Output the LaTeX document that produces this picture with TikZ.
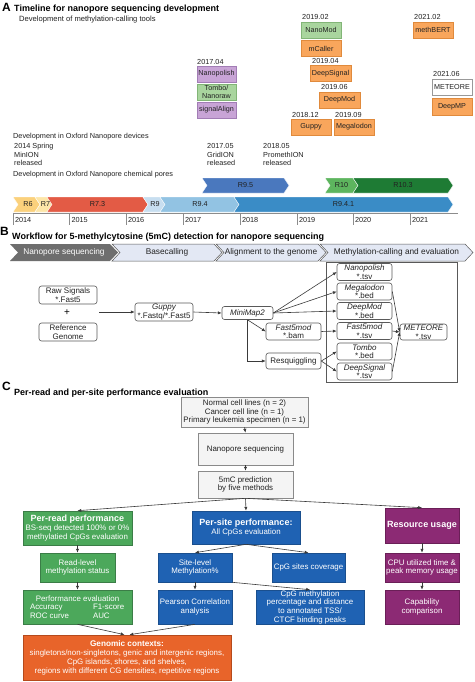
\documentclass[tikz,border=0pt]{standalone}
\usepackage{fontspec}
\setmainfont{Liberation Sans}
\usetikzlibrary{arrows.meta,calc}
\definecolor{txt}{HTML}{222222}
\definecolor{purpF}{HTML}{C8A4D6}
\definecolor{purpD}{HTML}{A27DB5}
\definecolor{grnF}{HTML}{A9D59E}
\definecolor{grnD}{HTML}{82B577}
\definecolor{orgF}{HTML}{F9A65C}
\definecolor{orgD}{HTML}{E08A3C}
\definecolor{rsix}{HTML}{FBD17C}
\definecolor{rseven}{HTML}{FDE6A8}
\definecolor{rsevthree}{HTML}{E35B45}
\definecolor{rnine}{HTML}{C7DEF0}
\definecolor{rninefour}{HTML}{92C3E3}
\definecolor{rninefourone}{HTML}{3A8CC6}
\definecolor{rninefive}{HTML}{4A78BE}
\definecolor{rten}{HTML}{5DB55E}
\definecolor{rtenthree}{HTML}{1E7B34}
\definecolor{chevdark}{HTML}{6E6E6E}
\definecolor{chevlight}{HTML}{E3E8F4}
\definecolor{cgreen}{HTML}{4CA85B}
\definecolor{cgreenD}{HTML}{3B7D47}
\definecolor{cblue}{HTML}{1F62B3}
\definecolor{cblueD}{HTML}{1A4F8E}
\definecolor{cpurp}{HTML}{8C2A74}
\definecolor{cpurpD}{HTML}{6A1F57}
\definecolor{corange}{HTML}{E8642A}
\definecolor{corangeD}{HTML}{B54A1C}
\definecolor{cgrayF}{HTML}{F4F4F4}
\definecolor{cgrayD}{HTML}{8A8A8A}
\definecolor{arrc}{HTML}{3A3A3A}
\newcommand\mychev[6]{%
  \path[#6] (#1,#3) -- (#2,#3) -- ({#2+#5},{(#3+#4)/2}) -- (#2,#4) -- (#1,#4) -- ({#1+#5},{(#3+#4)/2}) -- cycle;}
\newcommand\myhead{\bfseries\fontsize{9}{10}\selectfont}
\begin{document}
\begin{tikzpicture}[x=1pt,y=-1pt,
  letter/.style={anchor=base west, inner sep=0pt, text=black, font=\bfseries\fontsize{12}{12}\selectfont},
  ttl/.style={anchor=base west, inner sep=0pt, text=black, font=\bfseries\fontsize{9}{10}\selectfont},
  lbl/.style={anchor=base west, inner sep=0pt, text=txt, font=\fontsize{7.3}{8.5}\selectfont},
  mlbl/.style={anchor=north west, inner sep=0pt, text=txt, align=left, font=\fontsize{7.3}{8.5}\selectfont},
  abox/.style={rectangle, minimum width=40pt, minimum height=16pt, inner sep=0pt, align=center, text=txt, line width=0.5pt, font=\fontsize{7.2}{7.6}\selectfont},
  purp/.style={abox, fill=purpF, draw=purpD},
  grn/.style={abox, fill=grnF, draw=grnD},
  org/.style={abox, fill=orgF, draw=orgD},
  wht/.style={abox, fill=white, draw=black!40},
  seg/.style={draw=white, line width=0.4pt, fill=#1},
  seglbl/.style={inner sep=0pt, text=txt, font=\fontsize{7.2}{8}\selectfont},
  axis/.style={draw=black!45, line width=0.7pt},
  chl/.style={draw=black!65, line width=0.5pt, fill=chevlight},
  chtxt/.style={inner sep=0pt, font=\fontsize{8.3}{9}\selectfont},
  bbox/.style={draw=black!65, fill=white, rounded corners=2.5pt, inner sep=0pt, align=center, text=txt, line width=0.6pt, font=\fontsize{8}{8.6}\selectfont},
  arr/.style={-{Latex[length=3.8pt,width=3.2pt]}, draw=arrc, line width=0.6pt},
  cbox/.style={rectangle, inner sep=0pt, align=center, line width=0.6pt, font=\fontsize{7.9}{8.7}\selectfont},
  gbox/.style={cbox, fill=cgrayF, draw=cgrayD, text=txt, font=\fontsize{7.9}{8.9}\selectfont},
  grbox/.style={cbox, fill=cgreen, draw=cgreenD, text=white},
  blbox/.style={cbox, fill=cblue, draw=cblueD, text=white},
  pubox/.style={cbox, fill=cpurp, draw=cpurpD, text=white},
  orbox/.style={cbox, fill=corange, draw=corangeD, text=white, font=\fontsize{7.9}{9}\selectfont}
]
\useasboundingbox (0,0) rectangle (474,682);
\fill[white] (0,0) rectangle (474,682);

%%%%%%%%%%%%%%%% A %%%%%%%%%%%%%%%%
\node[letter] (lA) at (2,12) {A};
\node[ttl] (tA) at (14,12) {Timeline for nanopore sequencing development};
\node[lbl, font=\fontsize{7.6}{8.5}\selectfont] (tools) at (19,21.5) {Development of methylation-calling tools};

\node[lbl] (d1704) at (197,64.5) {2017.04};
\node[purp, minimum width=39pt] (a_nanopolish) at (216.5,74) {Nanopolish};
\node[grn, minimum width=39pt] (a_tombo) at (216.5,92) {Tombo/\\Nanoraw};
\node[purp, minimum width=39pt] (a_signal) at (216.5,110) {signalAlign};

\node[lbl] (d1902) at (302,19.5) {2019.02};
\node[grn] (a_nanomod) at (321,30) {NanoMod};
\node[org] (a_mcaller) at (321,48.5) {mCaller};
\node[lbl] (d1904) at (312,64) {2019.04};
\node[org, minimum width=41pt] (a_deepsignal) at (330.5,73.5) {DeepSignal};
\node[lbl] (d1906) at (321,89.5) {2019.06};
\node[org, minimum width=41pt] (a_deepmod) at (339.5,100) {DeepMod};
\node[lbl] (d1812) at (292,117.5) {2018.12};
\node[lbl] (d1909) at (335,117.5) {2019.09};
\node[org] (a_guppy) at (311,127) {Guppy};
\node[org] (a_megalodon) at (354,127) {Megalodon};
\node[lbl] (d2102) at (414,19.5) {2021.02};
\node[org] (a_methbert) at (433,30) {methBERT};
\node[lbl] (d2106) at (433,77) {2021.06};
\node[wht] (a_meteore) at (452,87) {METEORE};
\node[org, minimum height=17pt] (a_deepmp) at (452,107) {DeepMP};

\node[lbl] (devices) at (13,138.5) {Development in Oxford Nanopore devices};
\node[mlbl] (minion) at (14,143.3) {2014 Spring\\MinION\\released};
\node[mlbl] (gridion) at (207,143.3) {2017.05\\GridION\\released};
\node[mlbl] (promethion) at (263,143.3) {2018.05\\PromethION\\released};
\node[lbl] (pores) at (13,176) {Development in Oxford Nanopore chemical pores};

% row 1
\mychev{202}{284}{178}{193}{5}{seg=rninefive}
\mychev{325}{353}{178}{193}{5}{seg=rten}
\mychev{353}{448}{178}{193}{5}{seg=rtenthree}
\node[seglbl] (r95) at (245.5,185.5) {R9.5};
\node[seglbl] (r10) at (341.5,185.5) {R10};
\node[seglbl] (r103) at (403,185.5) {R10.3};
% row 2
\mychev{13}{35}{197}{212}{5}{seg=rsix}
\mychev{35}{47}{197}{212}{5}{seg=rseven}
\mychev{47}{143}{197}{212}{5}{seg=rsevthree}
\mychev{143}{160}{197}{212}{5}{seg=rnine}
\mychev{160}{234}{197}{212}{5}{seg=rninefour}
\mychev{234}{448}{197}{212}{5}{seg=rninefourone}
\node[seglbl] (r6) at (28,204.5) {R6};
\node[seglbl] (r7) at (45.5,204.5) {R7};
\node[seglbl] (r73) at (97.5,204.5) {R7.3};
\node[seglbl] (r9) at (155,204.5) {R9};
\node[seglbl] (r94) at (200,204.5) {R9.4};
\node[seglbl] (r941) at (343.5,204.5) {R9.4.1};
% axis
\draw[axis] (13,213.5) -- (458,213.5);
\foreach \xx/\yr in {13/2014,69.5/2015,126/2016,183/2017,240/2018,297/2019,353/2020,410/2021}{
  \draw[axis] (\xx,213.5) -- (\xx,224.5);
  \node[lbl] at (\xx+1.8,222.5) {\yr};
}

%%%%%%%%%%%%%%%% B %%%%%%%%%%%%%%%%
\node[letter] (lB) at (0,235) {B};
\node[ttl] (tB) at (12,239) {Workflow for 5-methylcytosine (5mC) detection for nanopore sequencing};
\mychev{10}{110}{244}{261}{8}{fill=chevdark}
\mychev{112}{214}{244}{261}{8}{chl}
\mychev{216}{318}{244}{261}{8}{chl}
\mychev{320}{465}{244}{261}{8}{chl}
\node[chtxt, text=white] (c1) at (64,252.5) {Nanopore sequencing};
\node[chtxt, text=txt] (c2) at (167,252.5) {Basecalling};
\node[chtxt, text=txt] (c3) at (271,252.5) {Alignment to the genome};
\node[chtxt, text=txt] (c4) at (396.5,252.5) {Methylation-calling and evaluation};

\node[bbox, minimum width=58pt, minimum height=18pt] (raw) at (68,295) {Raw Signals\\*.Fast5};
\node[inner sep=0pt, font=\fontsize{10}{10}\selectfont] (plus) at (67,313) {+};
\node[bbox, minimum width=58pt, minimum height=18pt] (ref) at (68,332) {Reference\\Genome};
\node[bbox, minimum width=58pt, minimum height=18pt] (guppy) at (164,312) {\itshape Guppy\\*.Fastq/*.Fast5};
\node[bbox, minimum width=51pt, minimum height=13pt] (minimap) at (247.5,313) {\itshape MiniMap2};
\node[bbox, minimum width=55pt, minimum height=17pt] (f5bam) at (293.5,331.5) {\itshape Fast5mod\\*.bam};
\node[bbox, minimum width=55pt, minimum height=16pt] (resq) at (293.5,361) {Resquiggling};
\draw[draw=black!65, line width=0.6pt] (326,262) rectangle (457,382);
\node[bbox, minimum width=55pt, minimum height=17pt] (nanopolish) at (364.5,272) {\itshape Nanopolish\\*.tsv};
\node[bbox, minimum width=55pt, minimum height=17pt] (megalodon) at (364.5,291.5) {\itshape Megalodon\\*.bed};
\node[bbox, minimum width=55pt, minimum height=17pt] (deepmod) at (364.5,311) {\itshape DeepMod\\*.bed};
\node[bbox, minimum width=55pt, minimum height=17pt] (f5tsv) at (364.5,331) {\itshape Fast5mod\\*.tsv};
\node[bbox, minimum width=55pt, minimum height=17pt] (tombo) at (364.5,351.5) {\itshape Tombo\\*.bed};
\node[bbox, minimum width=55pt, minimum height=17pt] (deepsignal) at (364.5,371.5) {\itshape DeepSignal\\*.tsv};
\node[bbox, minimum width=47pt, minimum height=16pt] (meteore) at (423.5,332) {\itshape METEORE\\*.tsv};

\coordinate (bstart) at (99,312);
\draw[arr] (bstart) -- (guppy.west);
\draw[arr] (guppy.east) -- (minimap.west);
\draw[arr] (minimap.east) -- (nanopolish.west);
\draw[arr] (minimap.east) -- (megalodon.west);
\draw[arr] (minimap.east) -- (deepmod.west);
\draw[arr] (minimap.south) -- (f5bam.west);
\draw[arr] (minimap.south) |- (resq.west);
\draw[arr] (f5bam.east) -- (f5tsv.west);
\draw[arr] (resq.east) -- (tombo.west);
\draw[arr] (resq.east) -- (deepsignal.west);
\draw[arr] (megalodon.east) -- (meteore.west);
\draw[arr] (f5tsv.east) -- (meteore.west);
\draw[arr] (deepsignal.east) -- (meteore.west);

%%%%%%%%%%%%%%%% C %%%%%%%%%%%%%%%%
\node[letter] (lC) at (2,390.5) {C};
\node[ttl] (tC) at (14,395) {Per-read and per-site performance evaluation};
\node[gbox, minimum width=127pt, minimum height=30pt] (samples) at (244.5,412) {Normal cell lines (n = 2)\\Cancer cell line (n = 1)\\Primary leukemia specimen (n = 1)};
\node[gbox, minimum width=95pt, minimum height=32pt] (seq) at (245.5,449) {Nanopore sequencing};
\node[gbox, minimum width=95pt, minimum height=27pt] (pred) at (245.5,484.5) {5mC prediction\\by five methods};

\node[grbox, minimum width=109pt, minimum height=34pt] (perread) at (77.5,528) {{\myhead Per-read performance}\\[0.5pt]BS-seq detected 100\% or 0\%\\methylatied CpGs evaluation};
\node[grbox, minimum width=75pt, minimum height=29pt] (readlevel) at (77.5,567.5) {Read-level\\methylation status};
\node[grbox, minimum width=109pt, minimum height=34pt] (perfeval) at (77.5,607) {Performance evaluation\\\makebox[63pt][l]{Accuracy}\makebox[32pt][l]{F1-score}\\\makebox[63pt][l]{ROC curve}\makebox[32pt][l]{AUC}};
\node[orbox, minimum width=208pt, minimum height=45pt] (genomic) at (127,657.5) {{\bfseries\fontsize{8.2}{9}\selectfont Genomic contexts:}\\singletons/non-singletons, genic and intergenic regions,\\CpG islands, shores, and shelves,\\regions with different CG densities, repetitive regions};

\node[blbox, minimum width=108pt, minimum height=33pt] (persite) at (246,527.5) {{\myhead Per-site performance:}\\[0.5pt]All CpGs evaluation};
\node[blbox, minimum width=74pt, minimum height=29pt] (sitelevel) at (195,567.5) {Site-level\\Methylation\%};
\node[blbox, minimum width=73pt, minimum height=29pt] (coverage) at (308.5,567.5) {CpG sites coverage};
\node[blbox, minimum width=74pt, minimum height=34pt] (pearson) at (195,607) {Pearson Correlation\\analysis};
\node[blbox, minimum width=108pt, minimum height=34pt] (cpgmeth) at (310,607) {CpG methylation\\percentage and distance\\to annotated TSS/\\CTCF binding peaks};

\node[pubox, minimum width=74pt, minimum height=35pt] (resource) at (422,525.5) {\myhead Resource usage};
\node[pubox, minimum width=74pt, minimum height=29pt] (cpu) at (422,567.5) {CPU utilized time \&\\peak memory usage};
\node[pubox, minimum width=74pt, minimum height=34pt] (capab) at (422,607) {Capability\\comparison};

\draw[arr] (samples.south) -- (seq.north);
\draw[arr] (seq.south) -- (pred.north);
\draw[arr] (pred.south) -- (perread.north);
\draw[arr] (pred.south) -- (persite.north);
\draw[arr] (pred.south) -- (resource.north);
\draw[arr] (perread.south) -- (readlevel.north);
\draw[arr] (readlevel.south) -- (perfeval.north);
\draw[arr] (persite.south) -- (sitelevel.north);
\draw[arr] (persite.south) -- (coverage.north);
\draw[arr] (sitelevel.south) -- (pearson.north);
\draw[arr] (sitelevel.south east) -- (cpgmeth.north);
\draw[arr] (perfeval.south) -- ($(genomic.north)+(-2.5,0)$);
\draw[arr] (pearson.south) -- ($(genomic.north)+(2.5,0)$);
\draw[arr] (resource.south) -- (cpu.north);
\draw[arr] (cpu.south) -- (capab.north);
\end{tikzpicture}
\end{document}
